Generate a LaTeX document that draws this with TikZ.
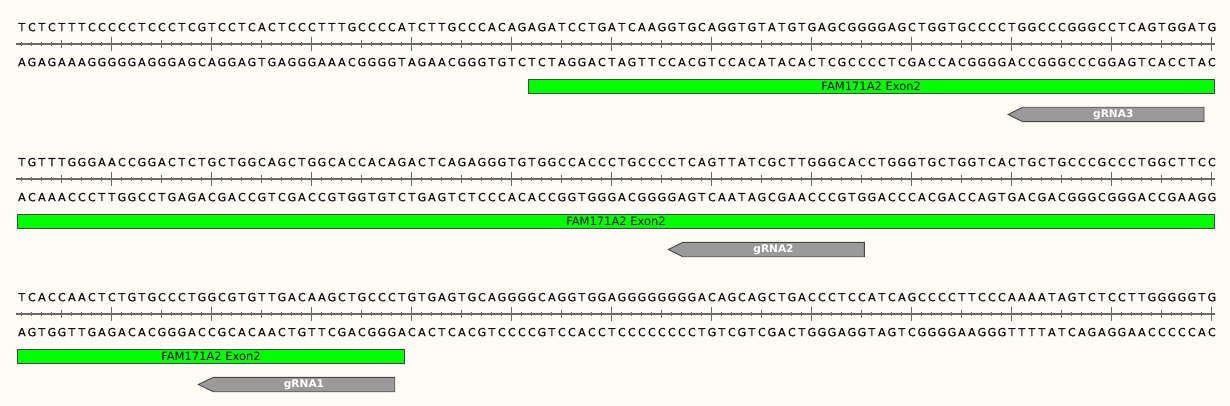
\documentclass[tikz,border=0pt]{standalone}
\usepackage{fontspec}
\newfontfamily\seqfont[FakeBold=0.7]{DejaVu Sans}
\newfontfamily\labfont{DejaVu Sans}
\definecolor{paper}{HTML}{FFFCF5}
\definecolor{exongreen}{HTML}{00FF00}
\definecolor{rulergray}{HTML}{6A6A6A}
\definecolor{edgegray}{HTML}{474747}
\definecolor{grnagray}{HTML}{9A9A9A}
\definecolor{basetext}{HTML}{101018}

% one base per fixed 10pt cell
\newcommand\basecell[1]{\makebox[10pt]{#1}}
\def\seqloop#1{\ifx#1\relax\else\basecell{#1}\expandafter\seqloop\fi}
\newcommand\dnaseq[1]{\seqloop#1\relax}

\tikzset{
  strand/.style={anchor=west, inner sep=0pt, text height=8pt, text depth=0pt,
    text=basetext, font=\fontsize{11.2}{13}\seqfont},
  ruler/.style={draw=rulergray, line width=1.4pt},
  tick/.style={draw=rulergray, line width=1.1pt},
  exon/.style={draw=edgegray, fill=exongreen, line width=0.9pt},
  exonlabel/.style={inner sep=0pt, font=\fontsize{11.5}{13}\labfont},
  grna/.style={draw=edgegray, fill=grnagray, line width=0.9pt},
  grnalabel/.style={inner sep=0pt, text=white, font=\fontsize{10.6}{12}\labfont\bfseries}
}

\begin{document}
\begin{tikzpicture}[x=1pt, y=-1pt]
  \fill[paper] (0,0) rectangle (1230,406);
  \useasboundingbox (0,0) rectangle (1230,406);

  % strands
  \node[strand] (topA) at (16.7,27.2) {\dnaseq{TCTCTTTCCCCCTCCCTCGTCCTCACTCCCTTTGCCCCATCTTGCCCACAGAGATCCTGATCAAGGTGCAGGTGTATGTGAGCGGGGAGCTGGTGCCCCTGGCCCGGGCCTCAGTGGATG}};
  \node[strand] (botA) at (16.7,62.2) {\dnaseq{AGAGAAAGGGGGAGGGAGCAGGAGTGAGGGAAACGGGGTAGAACGGGTGTCTCTAGGACTAGTTCCACGTCCACATACACTCGCCCCTCGACCACGGGGACCGGGCCCGGAGTCACCTAC}};
  \node[strand] (topB) at (16.7,162.2) {\dnaseq{TGTTTGGGAACCGGACTCTGCTGGCAGCTGGCACCACAGACTCAGAGGGTGTGGCCACCCTGCCCCTCAGTTATCGCTTGGGCACCTGGGTGCTGGTCACTGCTGCCCGCCCTGGCTTCC}};
  \node[strand] (botB) at (16.7,197.2) {\dnaseq{ACAAACCCTTGGCCTGAGACGACCGTCGACCGTGGTGTCTGAGTCTCCCACACCGGTGGGACGGGGAGTCAATAGCGAACCCGTGGACCCACGACCAGTGACGACGGGCGGGACCGAAGG}};
  \node[strand] (topC) at (16.7,297.2) {\dnaseq{TCACCAACTCTGTGCCCTGGCGTGTTGACAAGCTGCCCTGTGAGTGCAGGGGCAGGTGGAGGGGGGGGACAGCAGCTGACCCTCCATCAGCCCCTTCCCAAAATAGTCTCCTTGGGGGTG}};
  \node[strand] (botC) at (16.7,332.2) {\dnaseq{AGTGGTTGAGACACGGGACCGCACAACTGTTCGACGGGACACTCACGTCCCCGTCCACCTCCCCCCCCTGTCGTCGACTGGGAGGTAGTCGGGGAAGGGTTTTATCAGAGGAACCCCCAC}};

  % rulers
  \foreach \dy in {0,135,270} {
    \draw[ruler] (16,44+\dy) -- (1215,44+\dy);
    \foreach \k in {1,...,120} {
      \pgfmathsetmacro\tl{mod(\k,10)==0 ? 7 : (mod(\k,5)==0 ? 4 : 2.3)}
      \draw[tick] (11.7+10*\k,44+\dy-\tl) -- ++(0,2*\tl);
    }
  }

  % exon features
  \draw[exon] (528,79.5) rectangle (1214.5,93.5);
  \node[exonlabel] (exonA) at (871.2,86.5) {FAM171A2 Exon2};
  \draw[exon] (17.5,214.5) rectangle (1214.5,228.5);
  \node[exonlabel] (exonB) at (616,221.5) {FAM171A2 Exon2};
  \draw[exon] (17.5,349.5) rectangle (404.5,363.5);
  \node[exonlabel] (exonC) at (211,356.5) {FAM171A2 Exon2};

  % guide RNAs
  \draw[grna] (1008,114.5) -- (1022.7,107.3) -- (1204,107.3) -- (1204,121.7) -- (1022.7,121.7) -- cycle;
  \node[grnalabel] (grna3) at (1113.3,114.5) {gRNA3};
  \draw[grna] (668.3,249.5) -- (682.7,242.3) -- (864.3,242.3) -- (864.3,256.7) -- (682.7,256.7) -- cycle;
  \node[grnalabel] (grna2) at (773.5,249.5) {gRNA2};
  \draw[grna] (198.3,384.5) -- (213.3,377.3) -- (394.7,377.3) -- (394.7,391.7) -- (213.3,391.7) -- cycle;
  \node[grnalabel] (grna1) at (304,384.5) {gRNA1};
\end{tikzpicture}
\end{document}
